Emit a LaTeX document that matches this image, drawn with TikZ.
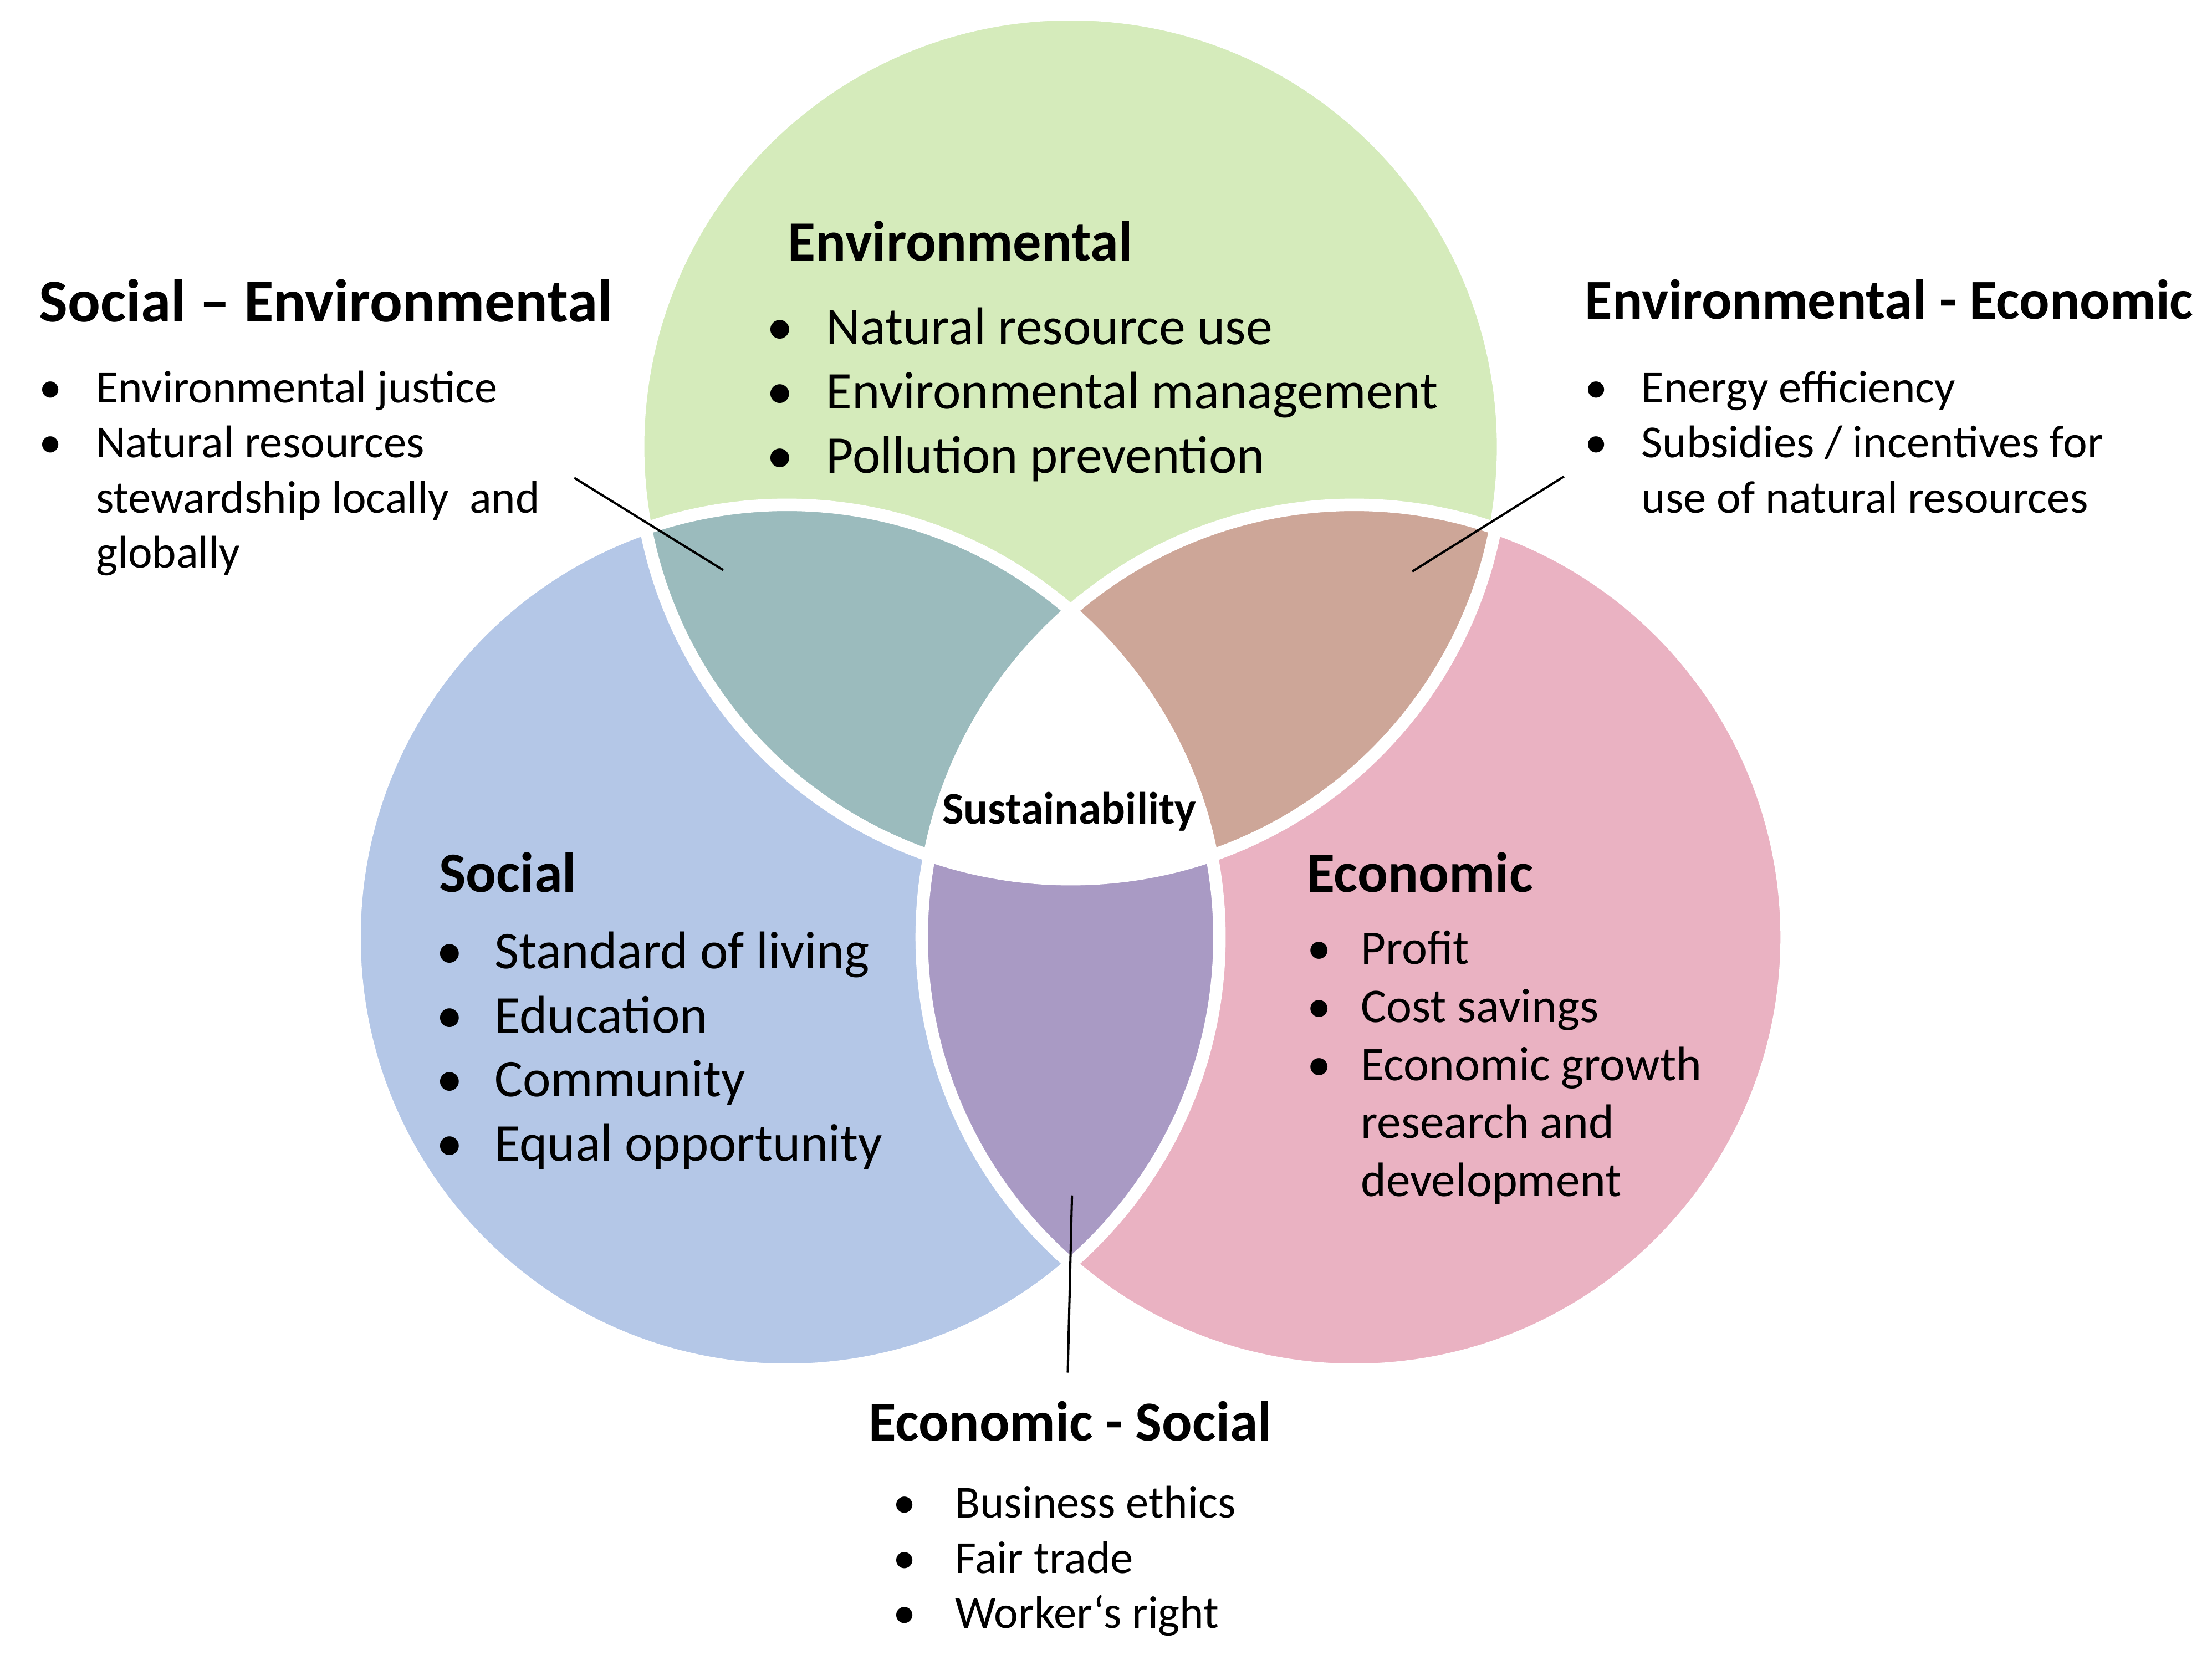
\documentclass[tikz,border=0pt]{standalone}
\usepackage{fontspec}
\setmainfont{Carlito}
\usepackage{xcolor}
\definecolor{envfill}{HTML}{D5EBBB}
\definecolor{socfill}{HTML}{B4C7E7}
\definecolor{ecofill}{HTML}{EAB2C2}
\definecolor{sefill}{HTML}{9BBBBD}
\definecolor{eefill}{HTML}{CDA698}
\definecolor{esfill}{HTML}{A99AC4}
\tikzset{
  ring/.style={draw=white, line width=2.5pt},
  lead/.style={draw=black, line width=0.45pt},
  head/.style={anchor=base west, inner sep=0pt, font=\fontsize{11.4}{13.7}\selectfont\bfseries},
  headsm/.style={head, font=\fontsize{11.3}{13.6}\selectfont\bfseries},
  headbg/.style={head, font=\fontsize{12.2}{14.6}\selectfont\bfseries},
  core/.style={anchor=base, inner sep=0pt, font=\fontsize{9.1}{11}\selectfont\bfseries},
  listsm/.style={anchor=base west, inner sep=0pt, font=\fontsize{9.2}{11.05}\selectfont},
  listmd/.style={anchor=base west, inner sep=0pt, font=\fontsize{9.7}{11.65}\selectfont},
  listbg/.style={anchor=base west, inner sep=0pt, font=\fontsize{10.65}{12.87}\selectfont},
}
\newcommand{\itemlist}[2]{\begin{tabular}[t]{@{}p{#1}@{}l@{}}#2\end{tabular}}
\newcommand{\bul}{\textbullet}

\begin{document}
\begin{tikzpicture}
  \useasboundingbox (0,0) rectangle (15.6,-11.703);
  \pgfmathsetmacro{\r}{3.05}
  \coordinate (E) at (7.55,-3.15);
  \coordinate (S) at (5.55,-6.61);
  \coordinate (C) at (9.55,-6.61);

  % the three circles
  \fill[envfill] (E) circle (\r);
  \fill[socfill] (S) circle (\r);
  \fill[ecofill] (C) circle (\r);

  % pairwise overlaps
  \begin{scope}
    \clip (S) circle (\r);
    \fill[sefill] (E) circle (\r);
  \end{scope}
  \begin{scope}
    \clip (E) circle (\r);
    \fill[eefill] (C) circle (\r);
  \end{scope}
  \begin{scope}
    \clip (C) circle (\r);
    \fill[esfill] (S) circle (\r);
  \end{scope}

  % common core left white
  \begin{scope}
    \clip (S) circle (\r);
    \clip (C) circle (\r);
    \fill[white] (E) circle (\r);
  \end{scope}

  \draw[ring] (E) circle (\r);
  \draw[ring] (S) circle (\r);
  \draw[ring] (C) circle (\r);

  % leader lines
  \coordinate (se-a) at (4.05,-3.37);
  \coordinate (se-b) at (5.10,-4.02);
  \coordinate (ee-a) at (11.03,-3.36);
  \coordinate (ee-b) at (9.96,-4.03);
  \coordinate (es-a) at (7.56,-8.43);
  \coordinate (es-b) at (7.53,-9.68);
  \draw[lead] (se-a) -- (se-b);
  \draw[lead] (ee-a) -- (ee-b);
  \draw[lead] (es-a) -- (es-b);

  % circle labels
  \node[head] (env) at (5.55,-1.84) {Environmental};
  \node[listbg] (env-list) at (5.40,-2.43) {\itemlist{0.42cm}{%
    \bul & Natural resource use\\
    \bul & Environmental management\\
    \bul & Pollution prevention}};

  \node[head] (soc) at (3.09,-6.29) {Social};
  \node[listbg] (soc-list) at (3.07,-6.83) {\itemlist{0.41cm}{%
    \bul & Standard of living\\
    \bul & Education\\
    \bul & Community\\
    \bul & Equal opportunity}};

  \node[head] (eco) at (9.21,-6.29) {Economic};
  \node[listmd] (eco-list) at (9.21,-6.80) {\itemlist{0.38cm}{%
    \bul & Profit\\
    \bul & Cost savings\\
    \bul & Economic growth\\
        & research and\\
        & development}};

  \node[core] (core) at (7.54,-5.81) {Sustainability};

  % overlap labels
  \node[headbg] (se) at (0.27,-2.27) {Social – Environmental};
  \node[listsm] (se-list) at (0.27,-2.84) {\itemlist{0.40cm}{%
    \bul & Environmental justice\\
    \bul & Natural resources\\
        & stewardship locally~ and\\
        & globally}};

  \node[headsm] (ee) at (11.17,-2.25) {Environmental - Economic};
  \node[listsm] (ee-list) at (11.17,-2.84) {\itemlist{0.40cm}{%
    \bul & Energy efficiency\\
    \bul & Subsidies / incentives for\\
        & use of natural resources}};

  \node[headsm] (es) at (6.12,-10.16) {Economic - Social};
  \node[listsm] (es-list) at (6.29,-10.705) {\itemlist{0.44cm}{%
    \bul & Business ethics\\
    \bul & Fair trade\\
    \bul & Worker‘s right}};
\end{tikzpicture}
\end{document}
